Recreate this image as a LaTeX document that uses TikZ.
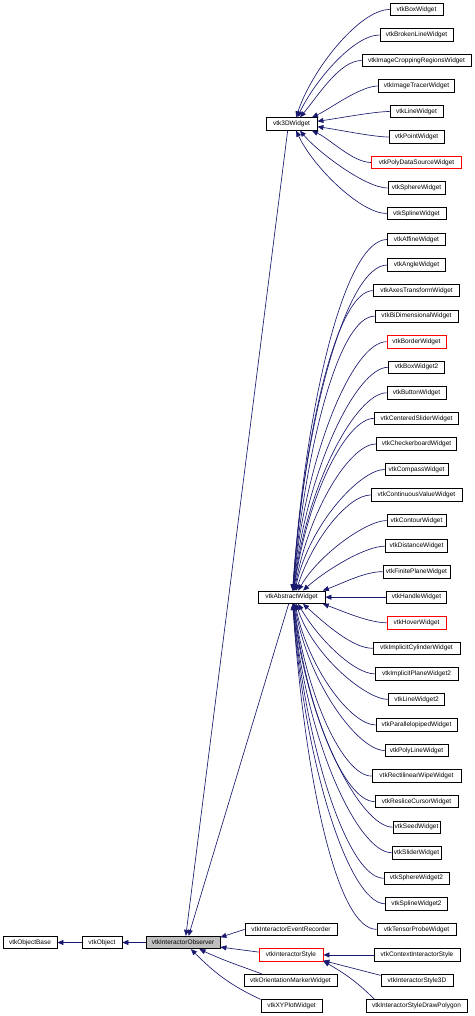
\documentclass[tikz,border=0pt]{standalone}
\usepackage{fontspec}
\setmainfont{Liberation Sans}
\usetikzlibrary{arrows.meta}
\definecolor{edgeblue}{HTML}{191970}
\definecolor{obsgray}{HTML}{BFBFBF}
\begin{document}
\begin{tikzpicture}[x=1pt,y=1pt,
  cls/.style={draw=black, fill=white, line width=0.8pt, inner sep=0pt,
    minimum height=12.5pt, font=\fontsize{6.5}{7}\selectfont, text=black},
  redcls/.style={cls, draw=red},
  graycls/.style={cls, fill=obsgray},
  edge/.style={draw=edgeblue, line width=0.65pt, -{Triangle[length=6pt,width=5pt]}},
]
\fill[white] (0,0) rectangle (474,-1016);
\useasboundingbox (0,0) rectangle (474,-1016);

% parents
\node[cls, minimum width=51pt] (w3d) at (291.5,-124) {vtk3DWidget};
\node[cls, minimum width=67pt] (abs) at (291.5,-597.2) {vtkAbstractWidget};
\node[graycls, minimum width=74pt] (obs) at (183,-942.5) {vtkInteractorObserver};
\node[cls, minimum width=40pt] (obj) at (102,-942.5) {vtkObject};
\node[cls, minimum width=54pt] (base) at (30,-942.5) {vtkObjectBase};

% 3D widget children
\node[cls, minimum width=53pt] (box) at (416.5,-9.5) {vtkBoxWidget};
\node[cls, minimum width=73pt] (broken) at (416.5,-35) {vtkBrokenLineWidget};
\node[cls, minimum width=109pt] (crop) at (416.5,-60.5) {vtkImageCroppingRegionsWidget};
\node[cls, minimum width=76pt] (tracer) at (416.5,-86) {vtkImageTracerWidget};
\node[cls, minimum width=53pt] (line) at (416.5,-111.5) {vtkLineWidget};
\node[cls, minimum width=55pt] (point) at (416.5,-137) {vtkPointWidget};
\node[redcls, minimum width=90pt] (polyds) at (416.5,-162.5) {vtkPolyDataSourceWidget};
\node[cls, minimum width=57pt] (sphere) at (416.5,-188) {vtkSphereWidget};
\node[cls, minimum width=59pt] (spline) at (416.5,-213.5) {vtkSplineWidget};

% abstract widget children
\node[cls, minimum width=58pt] (affine) at (416.5,-239.5) {vtkAffineWidget};
\node[cls, minimum width=58pt] (angle) at (416.5,-265.05) {vtkAngleWidget};
\node[cls, minimum width=86pt] (axes) at (416.5,-290.6) {vtkAxesTransformWidget};
\node[cls, minimum width=83pt] (bidim) at (416.5,-316.15) {vtkBiDimensionalWidget};
\node[redcls, minimum width=59pt] (border) at (416.5,-341.7) {vtkBorderWidget};
\node[cls, minimum width=56pt] (boxb) at (416.5,-367.25) {vtkBoxWidget2};
\node[cls, minimum width=59pt] (button) at (416.5,-392.8) {vtkButtonWidget};
\node[cls, minimum width=84pt] (cslider) at (416.5,-418.35) {vtkCenteredSliderWidget};
\node[cls, minimum width=80pt] (checker) at (416.5,-443.9) {vtkCheckerboardWidget};
\node[cls, minimum width=63pt] (compass) at (416.5,-469.45) {vtkCompassWidget};
\node[cls, minimum width=91pt] (cvalue) at (416.5,-495.0) {vtkContinuousValueWidget};
\node[cls, minimum width=59pt] (contour) at (416.5,-520.55) {vtkContourWidget};
\node[cls, minimum width=62pt] (distance) at (416.5,-546.1) {vtkDistanceWidget};
\node[cls, minimum width=67pt] (finite) at (416.5,-571.65) {vtkFinitePlaneWidget};
\node[cls, minimum width=60pt] (handle) at (416.5,-597.2) {vtkHandleWidget};
\node[redcls, minimum width=59pt] (hover) at (416.5,-622.75) {vtkHoverWidget};
\node[cls, minimum width=87pt] (icyl) at (416.5,-648.3) {vtkImplicitCylinderWidget};
\node[cls, minimum width=83pt] (iplane) at (416.5,-673.85) {vtkImplicitPlaneWidget2};
\node[cls, minimum width=56pt] (lineb) at (416.5,-699.4) {vtkLineWidget2};
\node[cls, minimum width=81pt] (para) at (416.5,-724.95) {vtkParallelopipedWidget};
\node[cls, minimum width=63pt] (polyline) at (416.5,-750.5) {vtkPolyLineWidget};
\node[cls, minimum width=89pt] (rect) at (416.5,-776.05) {vtkRectilinearWipeWidget};
\node[cls, minimum width=83pt] (reslice) at (416.5,-801.6) {vtkResliceCursorWidget};
\node[cls, minimum width=47pt] (seed) at (416.5,-827.15) {vtkSeedWidget};
\node[cls, minimum width=49pt] (slider) at (416.5,-852.7) {vtkSliderWidget};
\node[cls, minimum width=65pt] (sphereb) at (416.5,-878.25) {vtkSphereWidget2};
\node[cls, minimum width=62pt] (splineb) at (416.5,-903.8) {vtkSplineWidget2};
\node[cls, minimum width=79pt] (tensor) at (416.5,-929.35) {vtkTensorProbeWidget};

% observer children
\node[cls, minimum width=92pt] (rec) at (291,-929.35) {vtkInteractorEventRecorder};
\node[redcls, minimum width=64pt] (istyle) at (291,-954.9) {vtkInteractorStyle};
\node[cls, minimum width=93pt] (orient) at (290.5,-980.45) {vtkOrientationMarkerWidget};
\node[cls, minimum width=61pt] (xy) at (291.5,-1006) {vtkXYPlotWidget};

% interactor style children
\node[cls, minimum width=86pt] (ctx) at (417,-954.9) {vtkContextInteractorStyle};
\node[cls, minimum width=72pt] (isd) at (417,-980.45) {vtkInteractorStyle3D};
\node[cls, minimum width=101pt] (poly) at (416.5,-1006) {vtkInteractorStyleDrawPolygon};

% edges to vtk3DWidget
\foreach \n/\a/\i/\o/\d in {box/55/72/30/50, broken/48/65/26/40, crop/38/50/22/28,
  tracer/18/25/18/20, line/6/8/15/20, point/-6/-8/15/20, polyds/-18/-25/18/20,
  sphere/-38/-50/22/28, spline/-55/-65/26/40}
  \draw[edge] (\n.west) to[out=180,in=\i,out distance=\o pt,in distance=\d pt] (w3d.\a);

% edges to vtkAbstractWidget
\foreach \n/\a/\i/\o/\d in {affine/80/86/42/190, angle/80/86/40/175, axes/78/86/36/160,
  bidim/78/85/35/148, border/76/85/34/135, boxb/74/84/32/120, button/72/83/30/108,
  cslider/70/82/28/95, checker/66/80/26/82, compass/62/78/24/68, cvalue/55/72/22/55,
  contour/45/60/20/42, distance/30/42/20/30, finite/12/20/18/20,
  hover/-12/-20/18/20, icyl/-30/-42/20/30, iplane/-45/-60/20/42, lineb/-55/-72/22/55,
  para/-62/-78/24/68, polyline/-66/-80/26/82, rect/-70/-82/28/95, reslice/-72/-83/30/108,
  seed/-74/-84/32/120, slider/-76/-85/34/135, sphereb/-78/-85/35/148,
  splineb/-78/-86/36/160, tensor/-80/-86/40/175}
  \draw[edge] (\n.west) to[out=180,in=\i,out distance=\o pt,in distance=\d pt] (abs.\a);
\draw[edge] (handle.west) -- (abs.east);

% edges to vtkInteractorObserver
\draw[edge] (w3d.240) -- (obs.67);
\draw[edge] (abs.247) -- (obs.50);
\draw[edge] (rec.west) -- (obs.8);
\draw[edge] (istyle.175) -- (obs.-7);
\draw[edge] (orient.167) to[out=160,in=-25] (obs.-22);
\draw[edge] (xy.north west) to[out=155,in=-45] (obs.-40);

% edges to vtkInteractorStyle
\draw[edge] (ctx.west) -- (istyle.east);
\draw[edge] (isd.172) -- (istyle.-10);
\draw[edge] (poly.171.7) to[out=135,in=-30] (istyle.-11);

% base chain
\draw[edge] (obs.west) -- (obj.east);
\draw[edge] (obj.west) -- (base.east);
\end{tikzpicture}
\end{document}
